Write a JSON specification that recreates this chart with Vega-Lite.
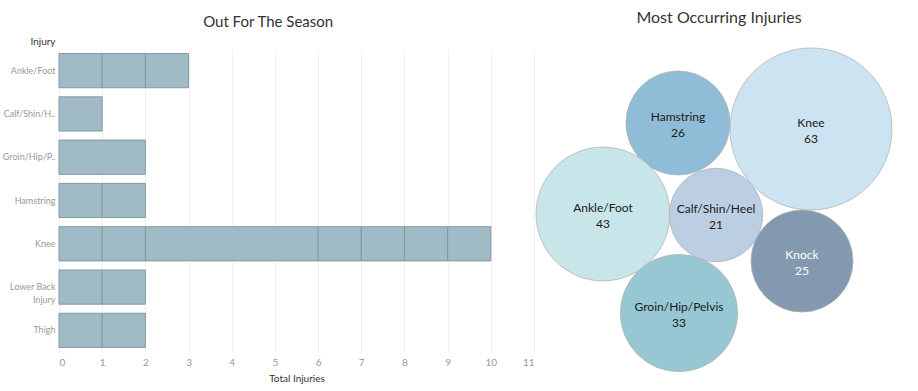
{
  "$schema": "https://vega.github.io/schema/vega-lite/v6.json",
  "padding": {"left": 2, "top": 10, "right": 0, "bottom": 0},
  "spacing": 0,
  "config": {
    "view": {"stroke": null},
    "font": "Lato",
    "title": {"fontSize": 15, "fontWeight": "normal", "color": "#333333"}
  },
  "datasets": {
    "segments": [
      {"Injury": "Ankle/Foot", "seg": 1, "Count": 1},
      {"Injury": "Ankle/Foot", "seg": 2, "Count": 1},
      {"Injury": "Ankle/Foot", "seg": 3, "Count": 1},
      {"Injury": "Calf/Shin/Heel", "seg": 1, "Count": 1},
      {"Injury": "Groin/Hip/Pelvis", "seg": 1, "Count": 2},
      {"Injury": "Hamstring", "seg": 1, "Count": 1},
      {"Injury": "Hamstring", "seg": 2, "Count": 1},
      {"Injury": "Knee", "seg": 1, "Count": 1},
      {"Injury": "Knee", "seg": 2, "Count": 1},
      {"Injury": "Knee", "seg": 3, "Count": 4},
      {"Injury": "Knee", "seg": 4, "Count": 1},
      {"Injury": "Knee", "seg": 5, "Count": 1},
      {"Injury": "Knee", "seg": 6, "Count": 1},
      {"Injury": "Knee", "seg": 7, "Count": 1},
      {"Injury": "Lower Back Injury", "seg": 1, "Count": 1},
      {"Injury": "Lower Back Injury", "seg": 2, "Count": 1},
      {"Injury": "Thigh", "seg": 1, "Count": 1},
      {"Injury": "Thigh", "seg": 2, "Count": 1}
    ],
    "bubbles": [
      {"Injury": "Knee", "Count": 63, "px": 276, "py": 261},
      {"Injury": "Hamstring", "Count": 26, "px": 143, "py": 267},
      {"Injury": "Ankle/Foot", "Count": 43, "px": 68, "py": 176},
      {"Injury": "Calf/Shin/Heel", "Count": 21, "px": 181, "py": 175},
      {"Injury": "Knock", "Count": 25, "px": 267, "py": 129},
      {"Injury": "Groin/Hip/Pelvis", "Count": 33, "px": 144, "py": 77}
    ]
  },
  "hconcat": [
    {
      "title": {"text": "Out For The Season", "anchor": "middle", "frame": "bounds", "offset": 6},
      "width": 475,
      "height": 303,
      "data": {"name": "segments"},
      "mark": {"type": "bar", "fill": "#a0bac6", "stroke": "#8399a4", "strokeWidth": 1},
      "encoding": {
        "y": {
          "field": "Injury", "type": "nominal", "sort": null,
          "scale": {"paddingInner": 0.21, "paddingOuter": 0.105},
          "axis": {
            "title": "Injury", "titleAngle": 0, "titleAlign": "right", "titleBaseline": "alphabetic",
            "titleX": -4, "titleY": -5, "titleFontSize": 10, "titleFontWeight": "normal", "titleColor": "#333333",
            "labelColor": "#999999", "labelFontSize": 9, "ticks": false, "domain": false, "labelPadding": 4,
            "labelLineHeight": 13,
            "labelExpr": "datum.value == 'Calf/Shin/Heel' ? 'Calf/Shin/H..' : datum.value == 'Groin/Hip/Pelvis' ? 'Groin/Hip/P..' : datum.value == 'Lower Back Injury' ? ['Lower Back', 'Injury'] : datum.value"
          }
        },
        "x": {
          "field": "Count", "type": "quantitative", "stack": "zero",
          "scale": {"domain": [0, 11], "nice": false},
          "axis": {
            "title": "Total Injuries", "values": [0, 1, 2, 3, 4, 5, 6, 7, 8, 9, 10, 11],
            "grid": true, "gridColor": "#efefef", "domain": false, "ticks": false, "labelFlush": true,
            "labelColor": "#999999", "labelFontSize": 10, "labelPadding": 5,
            "titleFontSize": 10, "titleFontWeight": "normal", "titleColor": "#333333", "titlePadding": 6
          }
        },
        "order": {"field": "seg", "type": "quantitative"}
      }
    },
    {
      "title": {"text": "Most Occurring Injuries", "anchor": "middle", "offset": 20, "dx": -8, "fontSize": 16},
      "width": 384,
      "height": 341,
      "data": {"name": "bubbles"},
      "encoding": {
        "x": {"field": "px", "type": "quantitative", "scale": {"domain": [0, 384], "nice": false}, "axis": null},
        "y": {"field": "py", "type": "quantitative", "scale": {"domain": [0, 341], "nice": false}, "axis": null}
      },
      "layer": [
        {
          "mark": {"type": "circle", "opacity": 1, "stroke": "#b4b4b4", "strokeWidth": 0.8},
          "encoding": {
            "size": {"field": "Count", "type": "quantitative", "scale": {"domain": [0, 63], "range": [0, 26244]}, "legend": null},
            "color": {
              "field": "Injury", "type": "nominal", "legend": null,
              "scale": {
                "domain": ["Knee", "Hamstring", "Ankle/Foot", "Calf/Shin/Heel", "Knock", "Groin/Hip/Pelvis"],
                "range": ["#cce3f1", "#8fbcd6", "#c8e6ea", "#bccfe2", "#8299b0", "#96c7d2"]
              }
            }
          }
        },
        {
          "mark": {"type": "text", "dy": -6, "fontSize": 12},
          "encoding": {
            "text": {"field": "Injury", "type": "nominal"},
            "color": {"condition": {"test": "datum.Injury === 'Knock'", "value": "#ffffff"}, "value": "#1a1a1a"}
          }
        },
        {
          "mark": {"type": "text", "dy": 10, "fontSize": 12},
          "encoding": {
            "text": {"field": "Count", "type": "quantitative"},
            "color": {"condition": {"test": "datum.Injury === 'Knock'", "value": "#ffffff"}, "value": "#1a1a1a"}
          }
        }
      ]
    }
  ]
}
